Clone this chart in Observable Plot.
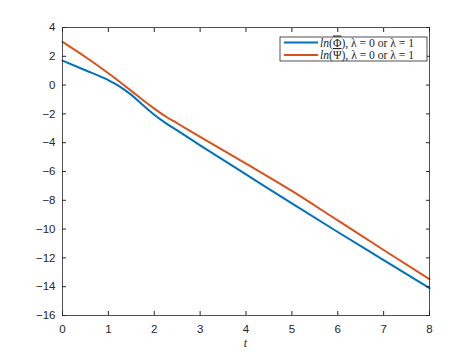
<!DOCTYPE html>
<html>
<head>
<meta charset="utf-8">
<script src="https://cdn.jsdelivr.net/npm/d3@7"></script>
<script src="https://cdn.jsdelivr.net/npm/@observablehq/plot@0.6"></script>
<style>
  html, body { margin: 0; padding: 0; background: #fff; }
  #chart { width: 474px; height: 355px; }
</style>
</head>
<body>
<div id="chart"></div>
<script>
const tValues = [0, 0.5, 1, 1.25, 1.5, 1.75, 2, 2.25, 2.5, 3, 4, 5, 6, 7, 8];
const phiValues = [1.70, 1.03, 0.34, -0.10, -0.68, -1.38, -2.06, -2.64, -3.15, -4.18, -6.20, -8.22, -10.20, -12.15, -14.10];
const psiValues = [3.00, 1.95, 0.82, 0.22, -0.40, -1.04, -1.63, -2.18, -2.65, -3.60, -5.45, -7.35, -9.40, -11.45, -13.48];
const xTicks = [0, 1, 2, 3, 4, 5, 6, 7, 8];
const yTicks = [4, 2, 0, -2, -4, -6, -8, -10, -12, -14, -16];
const seriesNames = ["Phi", "Psi"];
const seriesColors = ["#0072BD", "#D95319"];

const data = [];
tValues.forEach((t, i) => {
  data.push({t, v: phiValues[i], s: seriesNames[0]});
  data.push({t, v: psiValues[i], s: seriesNames[1]});
});

const axisColor = "#262626";
const font = "Liberation Sans, Arial, Helvetica, sans-serif";

const chart = Plot.plot({
  width: 474,
  height: 355,
  marginLeft: 62,
  marginRight: 45,
  marginTop: 27,
  marginBottom: 40,
  style: {fontFamily: font, fontSize: "11.5px", color: axisColor, background: "#fff"},
  x: {domain: [0, 8]},
  y: {domain: [-16, 4]},
  color: {domain: seriesNames, range: seriesColors},
  marks: [
    Plot.line(data, {x: "t", y: "v", z: "s", stroke: "s", strokeWidth: 2, curve: "monotone-x"}),
    Plot.frame({stroke: axisColor, strokeOpacity: 0.8}),
    Plot.axisX({ticks: xTicks, tickSize: -4, tickPadding: 13, label: null, stroke: axisColor, fill: axisColor}),
    Plot.axisX({anchor: "top", ticks: xTicks, tickSize: -4, label: null, tickFormat: () => "", stroke: axisColor}),
    Plot.axisY({ticks: yTicks, tickSize: -4, tickPadding: 11, label: null, stroke: axisColor, fill: axisColor}),
    Plot.axisY({anchor: "right", ticks: yTicks, tickSize: -4, label: null, tickFormat: () => "", stroke: axisColor})
  ]
});
document.getElementById("chart").appendChild(chart);

const svg = d3.select(chart);
// x axis label
svg.append("text")
  .attr("x", (62 + 429) / 2).attr("y", 347)
  .attr("text-anchor", "middle")
  .style("font-family", "Liberation Serif, Times New Roman, serif")
  .style("font-style", "italic").style("font-size", "12px")
  .attr("fill", axisColor)
  .text("t");

// legend
const lg = svg.append("g");
lg.append("rect").attr("x", 280).attr("y", 37).attr("width", 147).attr("height", 24)
  .attr("fill", "#fff").attr("stroke", axisColor).attr("stroke-width", 0.8);
const labels = ["Φ", "Ψ"];
seriesNames.forEach((s, i) => {
  const y = 42.5 + i * 12.5;
  lg.append("line").attr("x1", 284).attr("x2", 318).attr("y1", y).attr("y2", y)
    .attr("stroke", seriesColors[i]).attr("stroke-width", 2);
  const tx = lg.append("text").attr("x", 320).attr("y", y + 4)
    .attr("text-anchor", "start")
    .style("font-family", "Liberation Serif, Times New Roman, serif")
    .style("font-size", "11.6px").attr("fill", axisColor);
  tx.append("tspan").style("font-style", "italic").text("ln");
  tx.append("tspan").text("(");
  tx.append("tspan").style("text-decoration", "overline").text(labels[i]);
  tx.append("tspan").text("), λ = 0 or λ = 1");
});
</script>
</body>
</html>
